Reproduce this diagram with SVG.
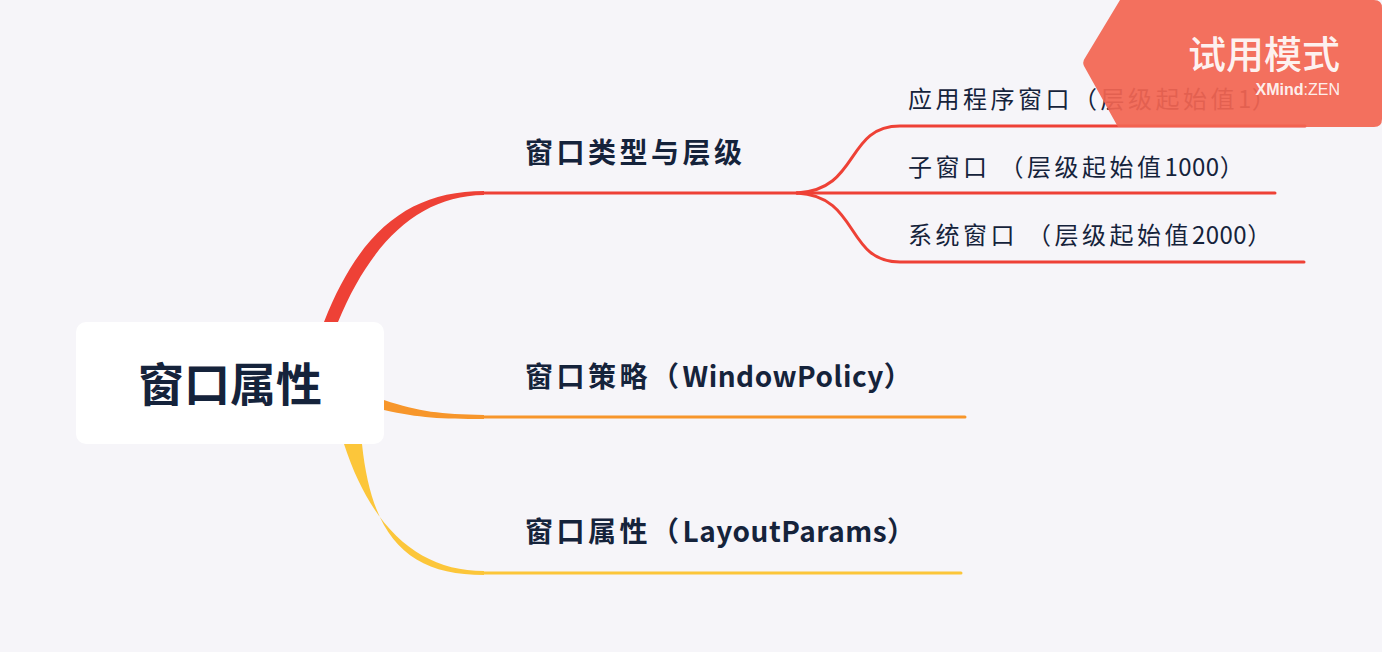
<svg xmlns="http://www.w3.org/2000/svg" width="1382" height="652" viewBox="0 0 1382 652">
<style>
.t{font-family:"Noto Sans CJK SC","Liberation Sans",sans-serif;fill:#15233b}
.b{font-weight:bold;font-size:28px;letter-spacing:3.5px}
.s{font-size:24px;letter-spacing:3.5px}
.n{letter-spacing:0.5px}
.l{fill:none;stroke-linecap:round}
</style>
<rect width="1382" height="652" fill="#f6f5f9"/>
<g id="connectors">
<path d="M324,322 C360,230 410,191 484,191 L484,195 C420,196 372,240 338,322 Z" fill="#ee4136"/>
<path class="l" d="M484,193 L797,193" stroke="#ee4136" stroke-width="3"/>
<path class="l" d="M797,193 C860,190 845,126 900,126 L1305,126" stroke="#ee4136" stroke-width="3"/>
<path class="l" d="M797,193 L1275,193" stroke="#ee4136" stroke-width="3"/>
<path class="l" d="M797,193 C860,196 845,262 900,262 L1304,262" stroke="#ee4136" stroke-width="3"/>
<path d="M384,400 C420,412 440,414 484,415 L484,419 C440,419 420,418 384,410 Z" fill="#f7962b"/>
<path class="l" d="M484,417 L965,417" stroke="#f7962b" stroke-width="3"/>
<path d="M344,444 C372,530 420,571 484,571 L484,575 C410,575 372,540 362,444 Z" fill="#fcc63a"/>
<path class="l" d="M484,573 L961,573" stroke="#fcc63a" stroke-width="3"/>
</g>
<g id="root">
<rect x="76" y="322" width="308" height="122" rx="10" fill="#fff"/>
<text class="t" x="230" y="401" font-size="46" font-weight="bold" text-anchor="middle">窗口属性</text>
</g>
<g id="n1"><text class="t b" x="525" y="163">窗口类型与层级</text></g>
<g id="n2"><text class="t b" x="525" y="387">窗口策略（<tspan class="n">WindowPolicy）</tspan></text></g>
<g id="n3"><text class="t b" x="525" y="542">窗口属性（<tspan class="n">LayoutParams）</tspan></text></g>
<g id="s1"><text class="t s" x="908" y="108">应用程序窗口（层级起始值<tspan class="n">1）</tspan></text></g>
<g id="s2"><text class="t s" x="908" y="176">子窗口 （层级起始值<tspan class="n">1000）</tspan></text></g>
<g id="s3"><text class="t s" x="908" y="244">系统窗口 （层级起始值<tspan class="n">2000）</tspan></text></g>
<g id="badge">
<path d="M1120,0 L1374,0 Q1382,0 1382,8 L1382,119 Q1382,127 1374,127 L1118,127 L1084,66 Q1082,62 1085,58 Z" fill="#f26552" fill-opacity="0.93"/>
<text x="1340" y="68" text-anchor="end" font-family="Noto Sans CJK SC,sans-serif" font-size="38" font-weight="500" fill="#fff" fill-opacity="0.92">试用模式</text>
<text x="1340" y="95" text-anchor="end" font-family="Liberation Sans,sans-serif" font-size="16" fill="#fff" fill-opacity="0.9"><tspan font-weight="bold">XMind</tspan>:ZEN</text>
</g>
</svg>
